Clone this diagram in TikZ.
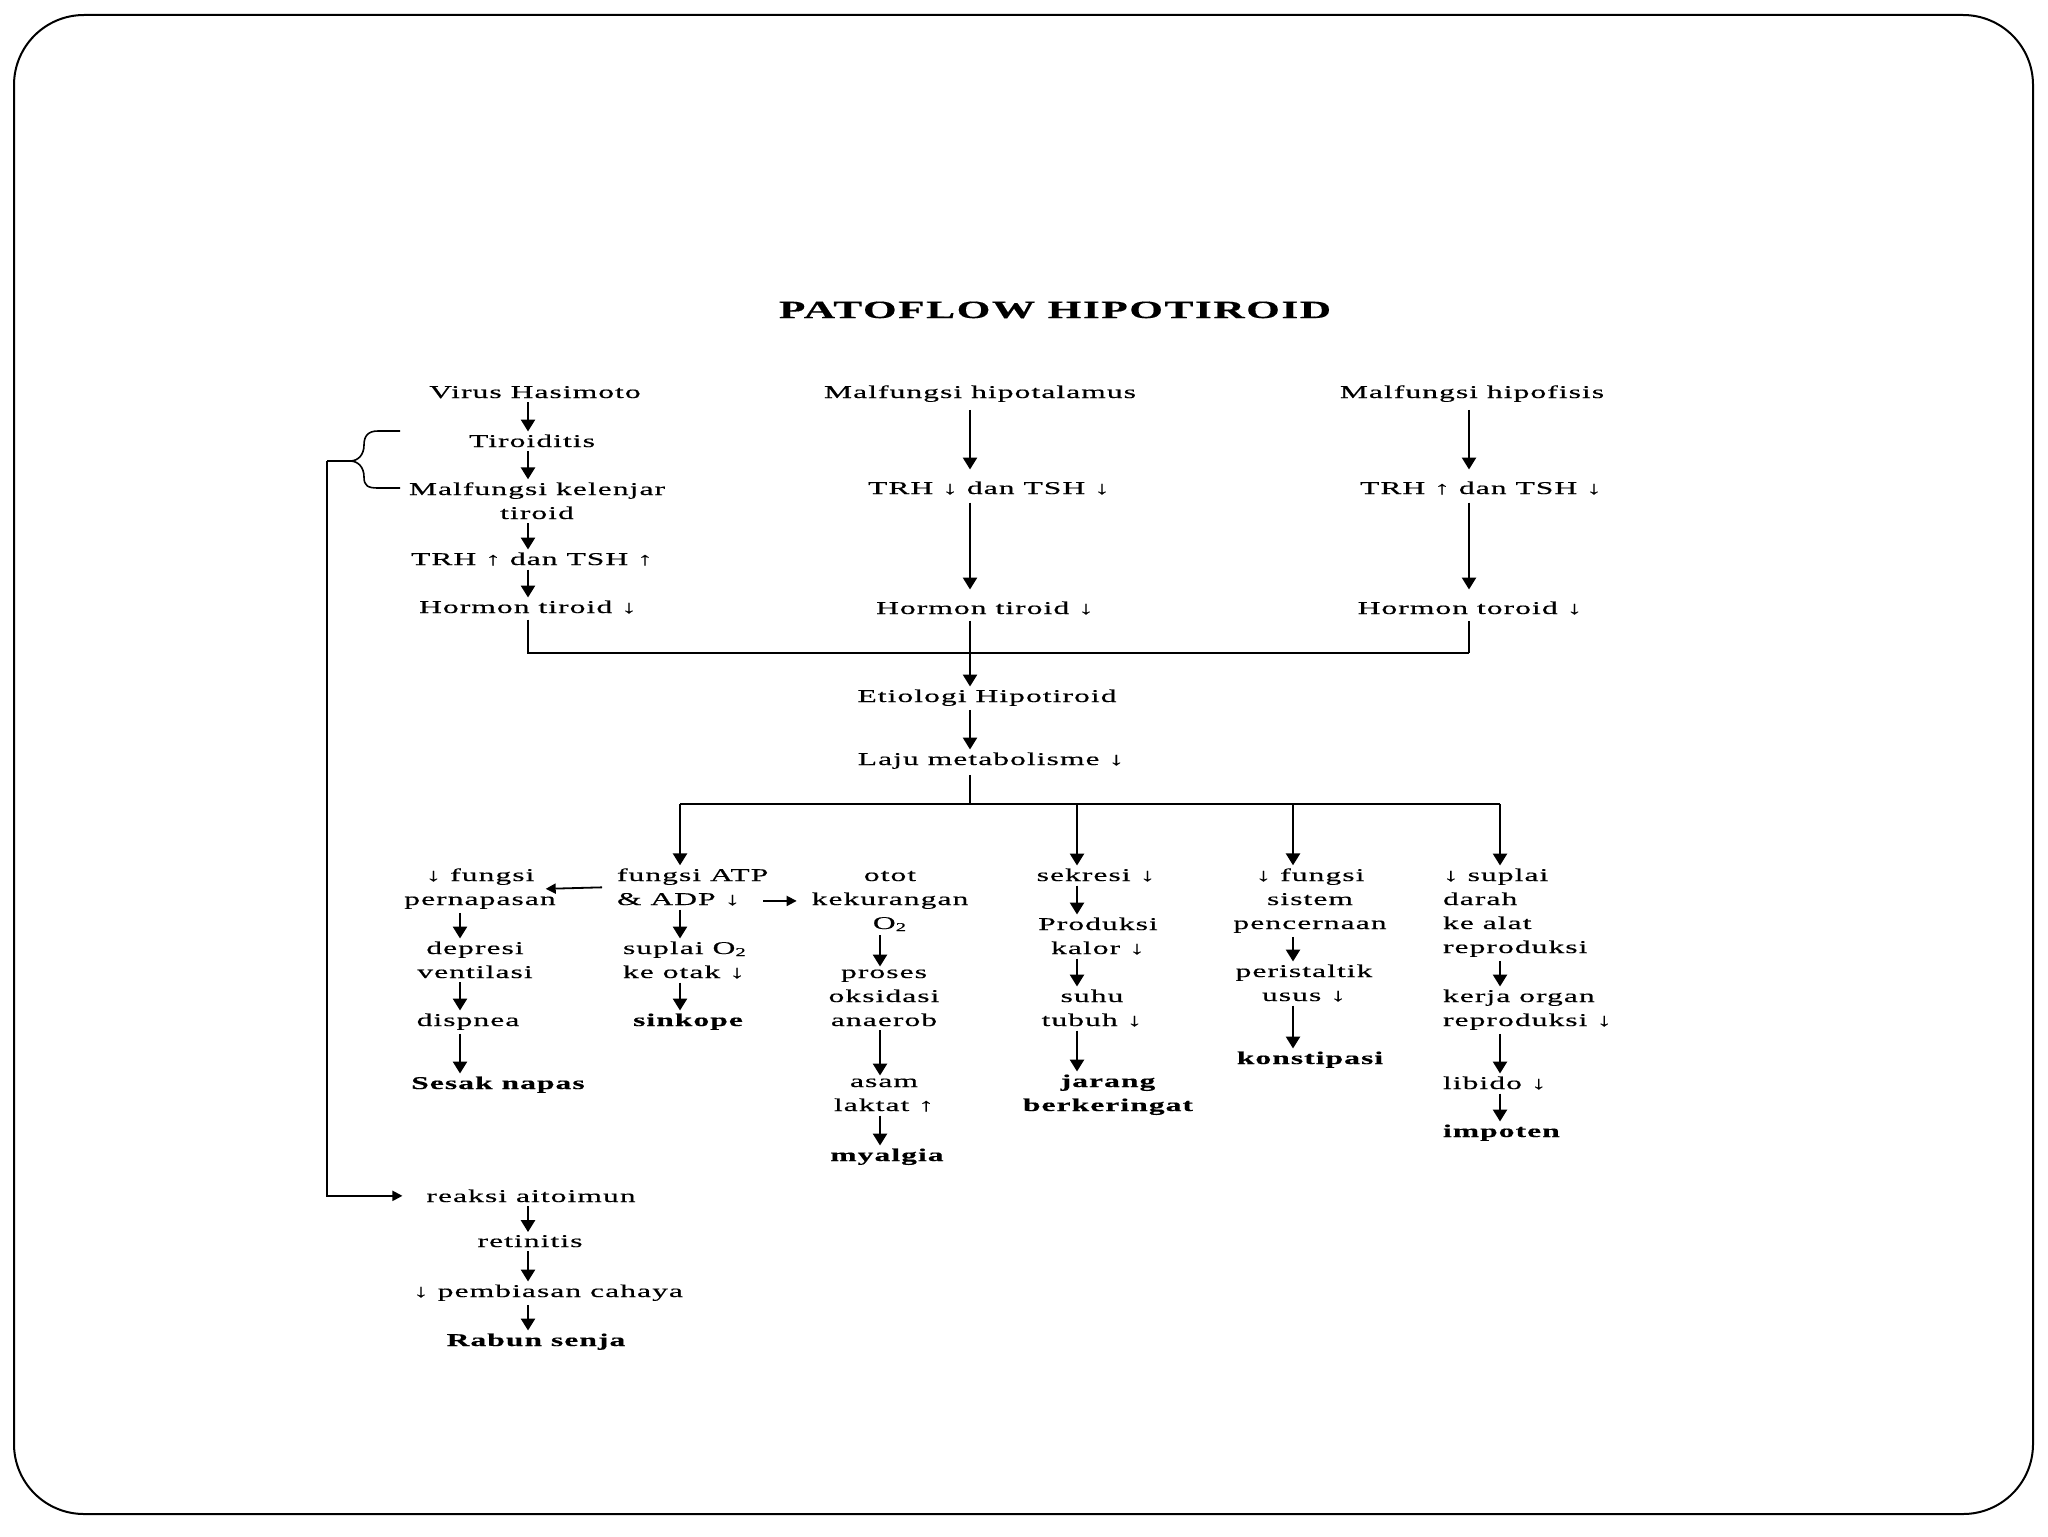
\documentclass[tikz,border=0pt]{standalone}
\usepackage{fontspec}
\newfontfamily\rf[FakeStretch=1.75,LetterSpace=6,FakeBold=0.4]{Liberation Serif}
\usetikzlibrary{arrows.meta}
\tikzset{
 tx/.style={font=\rf\fontsize{9}{12}\selectfont, inner sep=0pt, outer sep=0pt, anchor=base, align=center},
 txl/.style={tx, anchor=base west, align=left},
 bd/.style={font=\rf\bfseries\fontsize{9}{12}\selectfont},
 arr/.style={-{Triangle[length=6pt,width=7pt]}, line width=1.3pt, shorten <=2pt, shorten >=1.5pt},
 ln/.style={line width=0.9pt},
}
\begin{document}
\begin{tikzpicture}[x=0.5pt,y=-0.5pt]
\useasboundingbox (0,0) rectangle (2048,1536);
\draw[line width=1pt, rounded corners=35pt] (14,15) rectangle (2033,1514);

\node[tx, font=\rf\bfseries\fontsize{12.4}{15}\selectfont] (title) at (1055,318) {PATOFLOW HIPOTIROID};

% column x positions
\coordinate (x1) at (528,0);
\coordinate (x2) at (970,0);
\coordinate (x3) at (1469,0);
\coordinate (xa) at (460,0);
\coordinate (xb) at (680,0);
\coordinate (xc) at (880,0);
\coordinate (xd) at (1077,0);
\coordinate (xe) at (1293,0);
\coordinate (xf) at (1500,0);
\coordinate (jy) at (0,653);
\coordinate (by) at (0,804);

% column 1
\node[tx] (vh) at (535,398) {Virus Hasimoto};
\node[tx] (tir) at (532,447) {Tiroiditis};
\node[tx] (mkt) at (537,519) {Malfungsi kelenjar\\tiroid};
\node[tx] (trh1) at (532,565) {TRH ↑ dan TSH ↑};
\node[tx] (ht1) at (528,613) {Hormon tiroid ↓};

% column 2
\node[tx] (mh) at (980,398) {Malfungsi hipotalamus};
\node[tx] (trh2) at (989,494) {TRH ↓ dan TSH ↓};
\node[tx] (ht2) at (985,614) {Hormon tiroid ↓};

% column 3
\node[tx] (mf) at (1472,398) {Malfungsi hipofisis};
\node[tx] (trh3) at (1481,494) {TRH ↑ dan TSH ↓};
\node[tx] (ht3) at (1470,614) {Hormon toroid ↓};

% middle
\node[tx] (eti) at (987,702) {Etiologi Hipotiroid};
\node[tx] (laju) at (991,765) {Laju metabolisme ↓};

% row (anchor = baseline of last line)
\node[tx] (fp) at (480,905) {↓ fungsi\\pernapasan};
\node[txl] (atp) at (617,905) {fungsi ATP\\\& ADP ↓};
\node[tx] (oto) at (890,929) {otot\\kekurangan\\O\textsubscript{2}};
\node[tx] (sek) at (1096,881) {sekresi ↓};
\node[tx] (fs) at (1310,929) {↓ fungsi\\sistem\\pencernaan};
\node[txl] (sup) at (1443,953) {↓ suplai\\darah\\ke alat\\reproduksi};

\node[tx] (dv) at (475,978) {depresi\\ventilasi};
\node[tx] (disp) at (468,1026) {dispnea};
\node[tx, bd] (sesak) at (498,1089) {Sesak napas};

\node[txl] (so2) at (623,978) {suplai O\textsubscript{2}\\ke otak ↓};
\node[tx, bd] (sink) at (688,1026) {sinkope};

\node[tx] (pro) at (884,1026) {proses\\oksidasi\\anaerob};
\node[tx] (asam) at (884,1111) {asam\\laktat ↑};
\node[tx, bd] (mya) at (887,1161) {myalgia};

\node[tx] (prod) at (1098,954) {Produksi\\kalor ↓};
\node[tx] (suhu) at (1092,1026) {suhu\\tubuh ↓};
\node[tx, bd] (jar) at (1108,1111) {jarang\\berkeringat};

\node[tx] (per) at (1304,1001) {peristaltik\\usus ↓};
\node[tx, bd] (kons) at (1310,1064) {konstipasi};

\node[txl] (kerja) at (1443,1026) {kerja organ\\reproduksi ↓};
\node[txl] (lib) at (1443,1089) {libido ↓};
\node[txl, bd] (imp) at (1443,1137) {impoten};

% bottom
\node[tx] (rea) at (531,1202) {reaksi aitoimun};
\node[tx] (ret) at (530,1247) {retinitis};
\node[tx] (pemb) at (548,1297) {↓ pembiasan cahaya};
\node[tx, bd] (rab) at (536,1346) {Rabun senja};

% brace
\coordinate (bt) at (327,461);
\draw[line width=0.8pt] (400,431) -- (378,431) .. controls (368,431) and (364,436) .. (364,445) .. controls (364,455) and (358,461) .. (350,461) -- (bt);
\draw[line width=0.8pt] (350,461) .. controls (358,461) and (364,467) .. (364,477) .. controls (364,486) and (368,488) .. (378,488) -- (400,488);
\draw[arr, line width=1pt, -{Triangle[length=5pt,width=5pt]}, shorten <=0pt, shorten >=12pt] (bt) |- (rea.west);

% column connectors
\draw[arr] (vh.south -| x1) -- (tir.north -| x1);
\draw[arr] (tir.south -| x1) -- (mkt.north -| x1);
\draw[arr] (mkt.south -| x1) -- (trh1.north -| x1);
\draw[arr] (trh1.south -| x1) -- (ht1.north -| x1);
\draw[arr, shorten <=4pt, shorten >=6pt] (mh.south -| x2) -- (trh2.north -| x2);
\draw[arr, shorten <=4pt, shorten >=6pt] (trh2.south -| x2) -- (ht2.north -| x2);
\draw[arr, shorten <=4pt, shorten >=6pt] (mf.south -| x3) -- (trh3.north -| x3);
\draw[arr, shorten <=4pt, shorten >=6pt] (trh3.south -| x3) -- (ht3.north -| x3);

% join
\draw[ln, shorten <=3pt] (ht1.south -| x1) -- (x1 |- jy) -- (x3 |- jy);
\draw[ln, shorten >=3pt] (x3 |- jy) -- (ht3.south -| x3);
\draw[arr, shorten <=3pt] (ht2.south -| x2) -- (eti.north -| x2);
\draw[arr] (eti.south -| x2) -- (laju.north -| x2);
\draw[ln, shorten <=3pt] (laju.south -| x2) -- (x2 |- by);
\draw[ln] (xb |- by) -- (xf |- by);
\draw[arr, shorten <=0pt] (xb |- by) -- (atp.north -| xb);
\draw[arr, shorten <=0pt] (xd |- by) -- (sek.north -| xd);
\draw[arr, shorten <=0pt] (xe |- by) -- (fs.north -| xe);
\draw[arr, shorten <=0pt] (xf |- by) -- (sup.north -| xf);

% row connectors
\draw[arr, line width=0.9pt, -{Triangle[length=5pt,width=5pt]}, shorten <=7.5pt, shorten >=-5pt] (atp.west) -- (fp.east);
\draw[arr, line width=0.9pt, -{Triangle[length=5pt,width=5pt]}, shorten <=-2.5pt, shorten >=7.5pt] (atp.east |- oto.west) -- (oto.west);
\draw[arr] (fp.south -| xa) -- (dv.north -| xa);
\draw[arr] (dv.south -| xa) -- (disp.north -| xa);
\draw[arr] (disp.south -| xa) -- (sesak.north -| xa);
\draw[arr] (atp.south -| xb) -- (so2.north -| xb);
\draw[arr] (so2.south -| xb) -- (sink.north -| xb);
\draw[arr] (oto.south -| xc) -- (pro.north -| xc);
\draw[arr] (pro.south -| xc) -- (asam.north -| xc);
\draw[arr] (asam.south -| xc) -- (mya.north -| xc);
\draw[arr] (sek.south -| xd) -- (prod.north -| xd);
\draw[arr] (prod.south -| xd) -- (suhu.north -| xd);
\draw[arr] (suhu.south -| xd) -- (jar.north -| xd);
\draw[arr] (fs.south -| xe) -- (per.north -| xe);
\draw[arr] (per.south -| xe) -- (kons.north -| xe);
\draw[arr] (sup.south -| xf) -- (kerja.north -| xf);
\draw[arr] (kerja.south -| xf) -- (lib.north -| xf);
\draw[arr] (lib.south -| xf) -- (imp.north -| xf);

% bottom connectors
\draw[arr] (rea.south -| x1) -- (ret.north -| x1);
\draw[arr] (ret.south -| x1) -- (pemb.north -| x1);
\draw[arr] (pemb.south -| x1) -- (rab.north -| x1);
\end{tikzpicture}
\end{document}
